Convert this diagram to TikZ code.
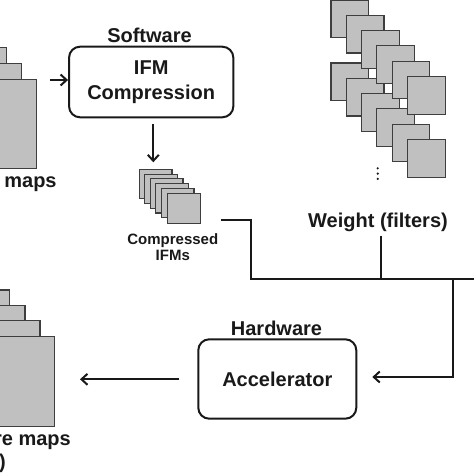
\documentclass[tikz,border=0pt]{standalone}
\usepackage{fontspec}
\setmainfont{Liberation Sans}
\usetikzlibrary{arrows.meta}
\definecolor{fillg}{RGB}{192,192,192}
\definecolor{edgeg}{RGB}{62,62,62}
\definecolor{ink}{RGB}{25,25,25}
\begin{document}
\begin{tikzpicture}[x=1pt,y=-1pt,
  lbl/.style={font=\bfseries\fontsize{20}{24.4}\selectfont, text=ink, inner sep=0pt, anchor=base},
  small/.style={font=\bfseries\fontsize{15}{15.7}\selectfont, text=ink, inner sep=0pt, align=center, anchor=base},
  box/.style={draw=ink, line width=2pt, rounded corners=11pt, inner sep=0pt, align=center,
              font=\bfseries\fontsize{20}{24.4}\selectfont, text=ink},
  sheet/.style={fill=fillg, draw=edgeg, line width=1.1pt},
  wire/.style={draw=ink, line width=2pt},
  arr/.style={wire, -{Straight Barb[length=6pt,width=11pt]}},
]
\useasboundingbox (0,0) rectangle (474,474);
\clip (0,0) rectangle (474,474);

% ---------- input feature maps (top left) ----------
\path[sheet] (-97.3,32.3) rectangle (-8.3,121.3);
\path[sheet] (-82.3,47.7) rectangle (6.7,136.7);
\path[sheet] (-67.3,63.3) rectangle (21.7,152.3);
\node[sheet, inner sep=0pt, minimum width=89pt, minimum height=89pt, anchor=north east]
  (ifmstack) at (36.7,79.3) {};
\node[lbl] (inlbl) at (30.5,187) {maps};

% ---------- software box ----------
\node[lbl] (swlbl) at (149.5,42.7) {Software};
\node[box, minimum width=164.3pt, minimum height=70.6pt] (ifm) at (151.2,82)
  {IFM\\Compression};
\coordinate (inA) at (50,80);
\draw[arr] (inA) -- (inA -| ifm.west);

% ---------- compressed IFMs ----------
\foreach \k in {0,...,4}{
  \path[sheet] ({139.3+5.5*\k},{169.3+4.8*\k}) rectangle ++(32.7,29.3);
}
\node[sheet, inner sep=0pt, minimum width=32.7pt, minimum height=29.3pt, anchor=north west]
  (clast) at (166.8,193.3) {};
\node[inner sep=0pt, minimum width=60pt, minimum height=53.4pt] (cstack) at (169.3,196) {};
\coordinate (dn1) at (153.3,124.3);
\coordinate (dn2) at (153.3,162.3);
\draw[arr] (dn1) -- (dn2);
\node[small] (clbl) at (172.8,260) {Compressed\\IFMs};

% ---------- weight filters ----------
\foreach \k in {0,...,5}{
  \path[sheet] ({331+15.3*\k},{63+15.3*\k}) rectangle ++(37.7,37.7);
}
\foreach \k in {0,...,5}{
  \path[sheet] ({331+15.3*\k},{0+15.3*\k}) rectangle ++(37.7,37.7);
}
\foreach \yy in {168.3,173.6,178.9}{
  \fill[ink] (377.7,\yy) circle (1.2);
}
\node[lbl] (wlbl) at (378,227.7) {Weight (filters)};

% ---------- bus ----------
\coordinate (c1) at (220.7,220);
\coordinate (c2) at (251.3,220);
\coordinate (j1) at (251.3,279.3);
\coordinate (wtop) at (381,235.5);
\coordinate (wj) at (381,279.3);
\coordinate (bend) at (453,279.3);
\coordinate (rend) at (476,279.3);
\coordinate (low) at (453,377);
\draw[wire] (c1) -- (c2) -- (j1) -- (rend);
\draw[wire] (wtop) -- (wj);

% ---------- hardware box ----------
\node[lbl] (hwlbl) at (276.5,335.3) {Hardware};
\node[box, minimum width=158pt, minimum height=79.4pt] (acc) at (277.3,379) {Accelerator};
\draw[arr] (bend) -- (low) -- ([xshift=15pt]acc.east |- low);

% ---------- output feature maps (bottom left) ----------
\path[sheet] (-80.4,290) rectangle (9.3,379.7);
\path[sheet] (-64.7,305.3) rectangle (25,395);
\path[sheet] (-49.7,320.7) rectangle (40,410.4);
\node[sheet, inner sep=0pt, minimum width=89.7pt, minimum height=89.7pt, anchor=north east]
  (ofmstack) at (55,336) {};
\coordinate (outA) at (179.3,379.3);
\coordinate (outB) at (80,379.3);
\draw[arr] (outA) -- (outB);
\node[lbl, anchor=base east] (outlbl) at (71,445.3) {re maps};
\node[lbl, anchor=base east] (outlbl2) at (6,468) {)};
\end{tikzpicture}
\end{document}
